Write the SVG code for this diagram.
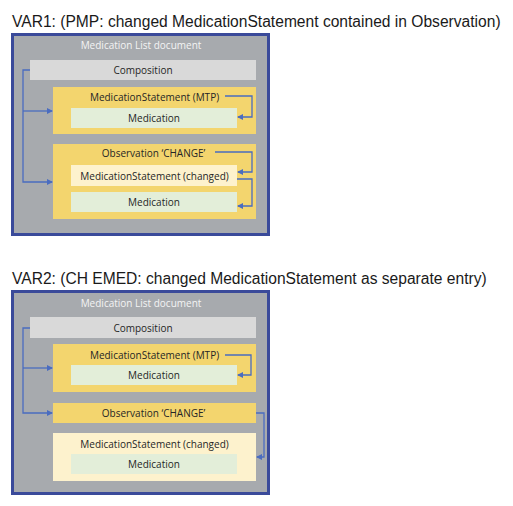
<svg xmlns="http://www.w3.org/2000/svg" width="513" height="506" viewBox="0 0 513 506">
<defs>
<marker id="arr" markerUnits="userSpaceOnUse" markerWidth="6" markerHeight="6" refX="5" refY="3" orient="auto">
<path d="M0,0 L6,3 L0,6 z" fill="#4a6cc0"/>
</marker>
<style>
.title{font-family:"Liberation Sans",Arial,sans-serif;font-size:15.6px;fill:#1a1a1a}
.frame{fill:#a7aaae;stroke:#3a4a9a;stroke-width:3}
.comp{fill:#d9d9d9}
.yel{fill:#f3d56e}
.lyel{fill:#fdf2cd}
.grn{fill:#e3eed9}
.t{font-family:"Open Sans","Liberation Sans",sans-serif;font-size:10px;fill:#262626;text-anchor:middle;dominant-baseline:central}
.tw{font-family:"Open Sans","Liberation Sans",sans-serif;font-size:10px;fill:#f4f4f4;text-anchor:middle;dominant-baseline:central}
.c{fill:none;stroke:#4a6cc0;stroke-width:1.3}
</style>
</defs>
<rect width="513" height="506" fill="#ffffff"/>
<text class="title" x="12" y="27">VAR1: (PMP: changed MedicationStatement contained in Observation)</text>
<text class="title" x="12" y="284">VAR2: (CH EMED: changed MedicationStatement as separate entry)</text>

<g id="var1">
<g id="v1-doc"><rect class="frame" x="12.5" y="34.5" width="256" height="200"/><text class="tw" x="141" y="45">Medication List document</text></g>
<g id="v1-composition"><rect class="comp" x="30" y="60" width="226" height="20"/><text class="t" x="143" y="70">Composition</text></g>
<g id="v1-ms-mtp"><rect class="yel" x="53" y="87" width="203" height="47"/><text class="t" x="154.5" y="97">MedicationStatement (MTP)</text></g>
<g id="v1-med1"><rect class="grn" x="71" y="108" width="166" height="20"/><text class="t" x="154" y="118">Medication</text></g>
<g id="v1-obs"><rect class="yel" x="53" y="144" width="203" height="75"/><text class="t" x="153.5" y="153">Observation ‘CHANGE’</text></g>
<g id="v1-ms-changed"><rect class="lyel" x="71" y="165" width="166" height="21"/><text class="t" x="154.5" y="175.5">MedicationStatement (changed)</text></g>
<g id="v1-med2"><rect class="grn" x="71" y="192" width="166" height="20"/><text class="t" x="154" y="202">Medication</text></g>
<g id="v1-connectors">
<path class="c" d="M30,70 H23 V182 H52" marker-end="url(#arr)"/>
<path class="c" d="M23,111 H52" marker-end="url(#arr)"/>
<path class="c" d="M225,96 H252 V117 H238" marker-end="url(#arr)"/>
<path class="c" d="M215,152 H252 V172 H238" marker-end="url(#arr)"/>
<path class="c" d="M237,179 H252 V206 H238" marker-end="url(#arr)"/>
</g>
</g>

<g id="var2">
<g id="v2-doc"><rect class="frame" x="12.5" y="291.5" width="256" height="202"/><text class="tw" x="141" y="303">Medication List document</text></g>
<g id="v2-composition"><rect class="comp" x="30" y="317" width="226" height="21"/><text class="t" x="143" y="327.5">Composition</text></g>
<g id="v2-ms-mtp"><rect class="yel" x="53" y="344" width="203" height="48"/><text class="t" x="154.5" y="355">MedicationStatement (MTP)</text></g>
<g id="v2-med1"><rect class="grn" x="71" y="365" width="166" height="20"/><text class="t" x="154" y="375">Medication</text></g>
<g id="v2-obs"><rect class="yel" x="53" y="403" width="203" height="20"/><text class="t" x="153.5" y="413">Observation ‘CHANGE’</text></g>
<g id="v2-ms-changed"><rect class="lyel" x="53" y="433" width="203" height="48"/><text class="t" x="154.5" y="443.5">MedicationStatement (changed)</text></g>
<g id="v2-med2"><rect class="grn" x="71" y="454" width="166" height="20"/><text class="t" x="154" y="464">Medication</text></g>
<g id="v2-connectors">
<path class="c" d="M30,328 H23 V413 H52" marker-end="url(#arr)"/>
<path class="c" d="M23,368 H52" marker-end="url(#arr)"/>
<path class="c" d="M225,355 H251 V375 H238" marker-end="url(#arr)"/>
<path class="c" d="M256,413 H264 V457 H257" marker-end="url(#arr)"/>
</g>
</g>
</svg>
